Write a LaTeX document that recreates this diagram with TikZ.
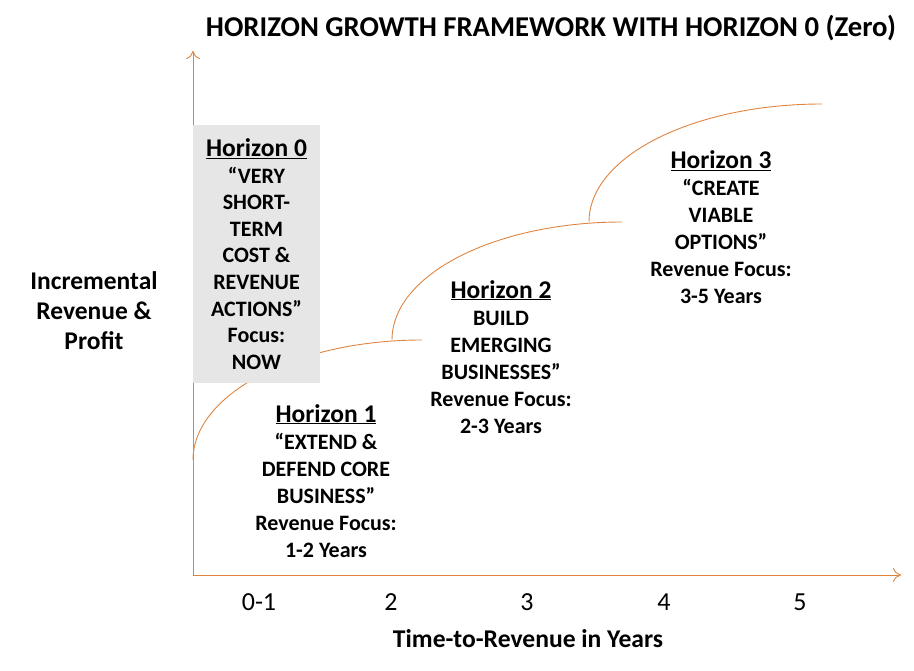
\documentclass[tikz,border=0pt]{standalone}
\usepackage{fontspec}
\setmainfont{Carlito}
\usetikzlibrary{arrows.meta}
\definecolor{hzorange}{RGB}{222,132,64}
\definecolor{hzgrey}{RGB}{230,230,230}
\newcommand{\hzhead}[1]{{\fontsize{25.5}{27}\selectfont\underline{#1}}}
\tikzset{
  hzline/.style={draw=hzorange, line width=0.9pt},
  riser/.style={out=90, in=180, out looseness=0.65, in looseness=1.25},
  hztext/.style={align=center, anchor=base, inner sep=0pt, font=\bfseries\fontsize{22}{27}\selectfont},
  yearlabel/.style={anchor=base, inner sep=0pt, font=\fontsize{26}{28}\selectfont}
}
\begin{document}
\begin{tikzpicture}[x=1pt,y=-1pt]
\useasboundingbox (0,0) rectangle (914,671);

\node[coordinate] (o) at (193,575) {};
\node[coordinate] (ytop) at (193,51) {};
\node[coordinate] (xend) at (901,575) {};
\draw [hzline, -{To[length=8pt,width=14pt]}] (o)--(ytop);
\draw [hzline, -{To[length=8pt,width=14pt]}] (o)--(xend);

\node[coordinate] (h1a) at (193,460) {};
\node[coordinate] (h1b) at (422,340) {};
\node[coordinate] (h2a) at (392,340) {};
\node[coordinate] (h2b) at (622,222) {};
\node[coordinate] (h3a) at (589,222) {};
\node[coordinate] (h3b) at (822,104) {};

\draw [hzline] (h1a) to[riser] (h1b);
\draw [hzline] (h2a) to[riser] (h2b);
\draw [hzline] (h3a) to[riser] (h3b);

% horizon 0 sits over the first curve
\node[fill=hzgrey, minimum width=127pt, minimum height=258pt, align=center, font=\bfseries\fontsize{22}{26.6}\selectfont] (h0) at (256.5,254) {\hzhead{Horizon 0}\\“VERY\\SHORT-\\TERM\\COST \&\\REVENUE\\ACTIONS”\\Focus:\\NOW};

% base anchor = last line
\node[hztext] (h1) at (326,557) {\hzhead{Horizon 1}\\“EXTEND \&\\DEFEND CORE\\BUSINESS”\\Revenue Focus:\\1-2 Years};
\node[hztext] (h2) at (501,433) {\hzhead{Horizon 2}\\BUILD\\EMERGING\\BUSINESSES”\\Revenue Focus:\\2-3 Years};
\node[hztext] (h3) at (721,304) {\hzhead{Horizon 3}\\“CREATE\\VIABLE\\OPTIONS”\\Revenue Focus:\\3-5 Years};

\node[hztext, font=\bfseries\fontsize{25.5}{30}\selectfont] (ylab) at (94,350) {Incremental\\Revenue \&\\Profit};
\node[hztext, font=\bfseries\fontsize{25.6}{30}\selectfont] (xlab) at (528,647) {Time-to-Revenue in Years};
\node[hztext, font=\bfseries\fontsize{28.7}{30}\selectfont] (title) at (551,37) {HORIZON GROWTH FRAMEWORK WITH HORIZON 0 (Zero)};

\node[yearlabel] (t1) at (259,610) {0-1};
\node[yearlabel] (t2) at (391,610) {2};
\node[yearlabel] (t3) at (527,610) {3};
\node[yearlabel] (t4) at (664,610) {4};
\node[yearlabel] (t5) at (800,610) {5};

\end{tikzpicture}
\end{document}
